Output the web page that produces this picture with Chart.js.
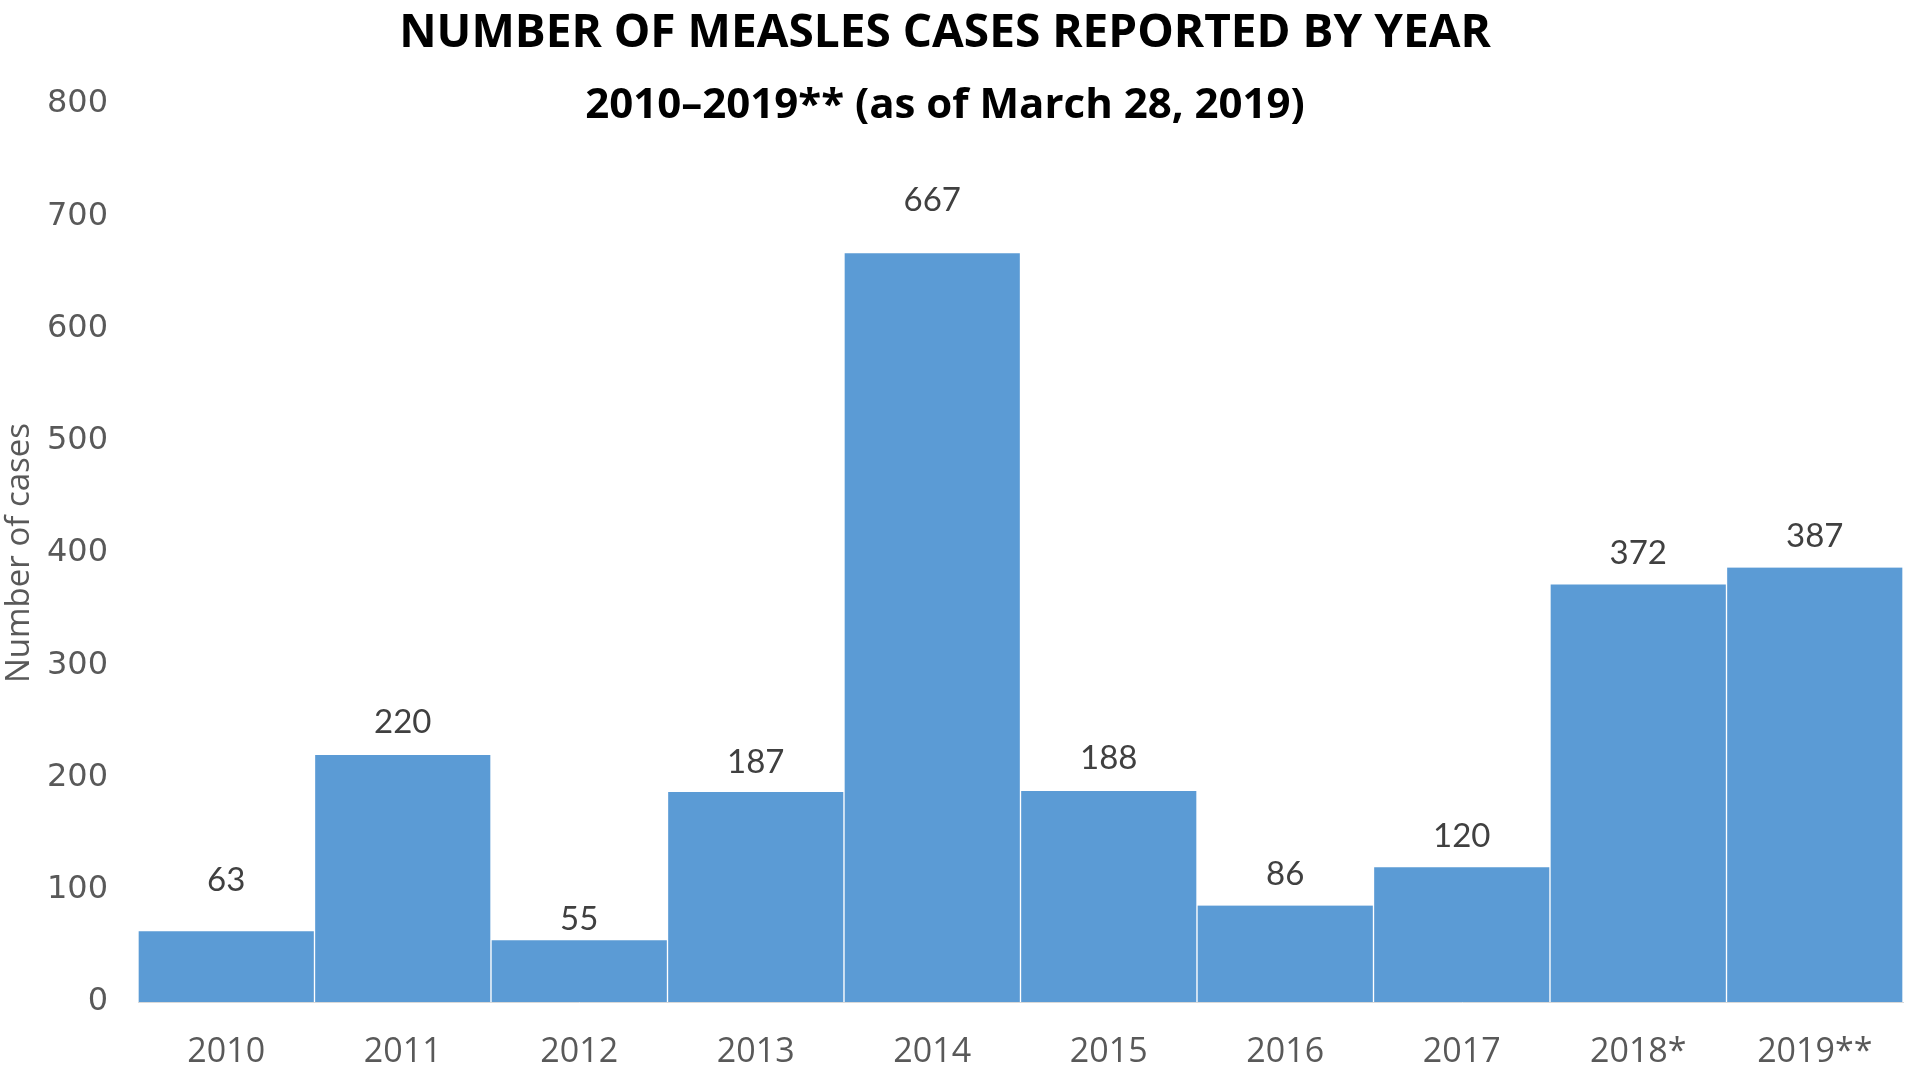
<!DOCTYPE html>
<html>
<head>
<meta charset="utf-8">
<script src="https://cdn.jsdelivr.net/npm/chart.js@4"></script>
<style>
  html, body { margin: 0; padding: 0; background: #fff; }
  #wrap { position: relative; width: 1920px; height: 1080px; overflow: hidden; }
  .ttl { position: absolute; left: 0; width: 1890px; text-align: center; color: #000; font-weight: bold; white-space: nowrap; font-family: "Open Sans", sans-serif; }
  #t1 { top: 3px; font-size: 46px; line-height: 52px; }
  #t2 { top: 78px; font-size: 42px; line-height: 48px; }
</style>
</head>
<body>
<div id="wrap">
  <canvas id="c" width="1920" height="1080"></canvas>
  <div class="ttl" id="t1">NUMBER OF MEASLES CASES REPORTED BY YEAR</div>
  <div class="ttl" id="t2">2010–2019** (as of March 28, 2019)</div>
</div>
<script>
const categories = ["2010", "2011", "2012", "2013", "2014", "2015", "2016", "2017", "2018*", "2019**"];
const cases = [63, 220, 55, 187, 667, 188, 86, 120, 372, 387];
const yTicks = [0, 100, 200, 300, 400, 500, 600, 700, 800];
const yTitle = "Number of cases";
// gap (px) between each bar top and the centre of its value label, as placed in the original
const labelGap = [51, 33, 21, 30, 53, 33, 31, 31, 31, 31];

const valueLabels = {
  id: 'valueLabels',
  afterDatasetsDraw(chart) {
    const ctx = chart.ctx;
    const meta = chart.getDatasetMeta(0);
    ctx.save();
    ctx.font = '33px Lato, "Open Sans", sans-serif';
    ctx.fillStyle = '#404040';
    ctx.textAlign = 'center';
    ctx.textBaseline = 'middle';
    meta.data.forEach((bar, i) => {
      ctx.fillText(String(cases[i]), bar.x, bar.y - labelGap[i]);
    });
    ctx.restore();
  }
};

new Chart(document.getElementById('c'), {
  type: 'bar',
  data: {
    labels: categories,
    datasets: [{
      data: cases,
      backgroundColor: '#5B9BD5',
      borderColor: '#ffffff',
      borderWidth: { left: 1, right: 1, top: 0, bottom: 0 },
      borderSkipped: false,
      categoryPercentage: 1.0,
      barPercentage: 1.0
    }]
  },
  options: {
    responsive: false,
    devicePixelRatio: 1,
    animation: false,
    layout: { padding: { top: 104, right: 17, bottom: 0, left: 0 } },
    plugins: { legend: { display: false }, tooltip: { enabled: false } },
    scales: {
      x: {
        grid: { display: false, drawTicks: false },
        border: { display: true, color: '#d9d9d9', width: 1 },
        ticks: {
          color: '#595959',
          font: { family: '"Open Sans", sans-serif', size: 34 },
          padding: 30,
          maxRotation: 0
        },
        afterFit(scale) { scale.height = 78; }
      },
      y: {
        min: 0,
        max: 800,
        afterBuildTicks(scale) { scale.ticks = yTicks.map(v => ({ value: v })); },
        grid: { display: false, drawTicks: false },
        border: { display: false },
        ticks: {
          color: '#595959',
          font: { family: '"DejaVu Sans", sans-serif', size: 32 },
          padding: 30
        },
        title: {
          display: true,
          text: yTitle,
          color: '#595959',
          font: { family: '"Open Sans", sans-serif', size: 33 },
          padding: { top: 0, bottom: 0 }
        },
        afterFit(scale) { scale.width = 138; }
      }
    }
  },
  plugins: [valueLabels]
});
</script>
</body>
</html>
